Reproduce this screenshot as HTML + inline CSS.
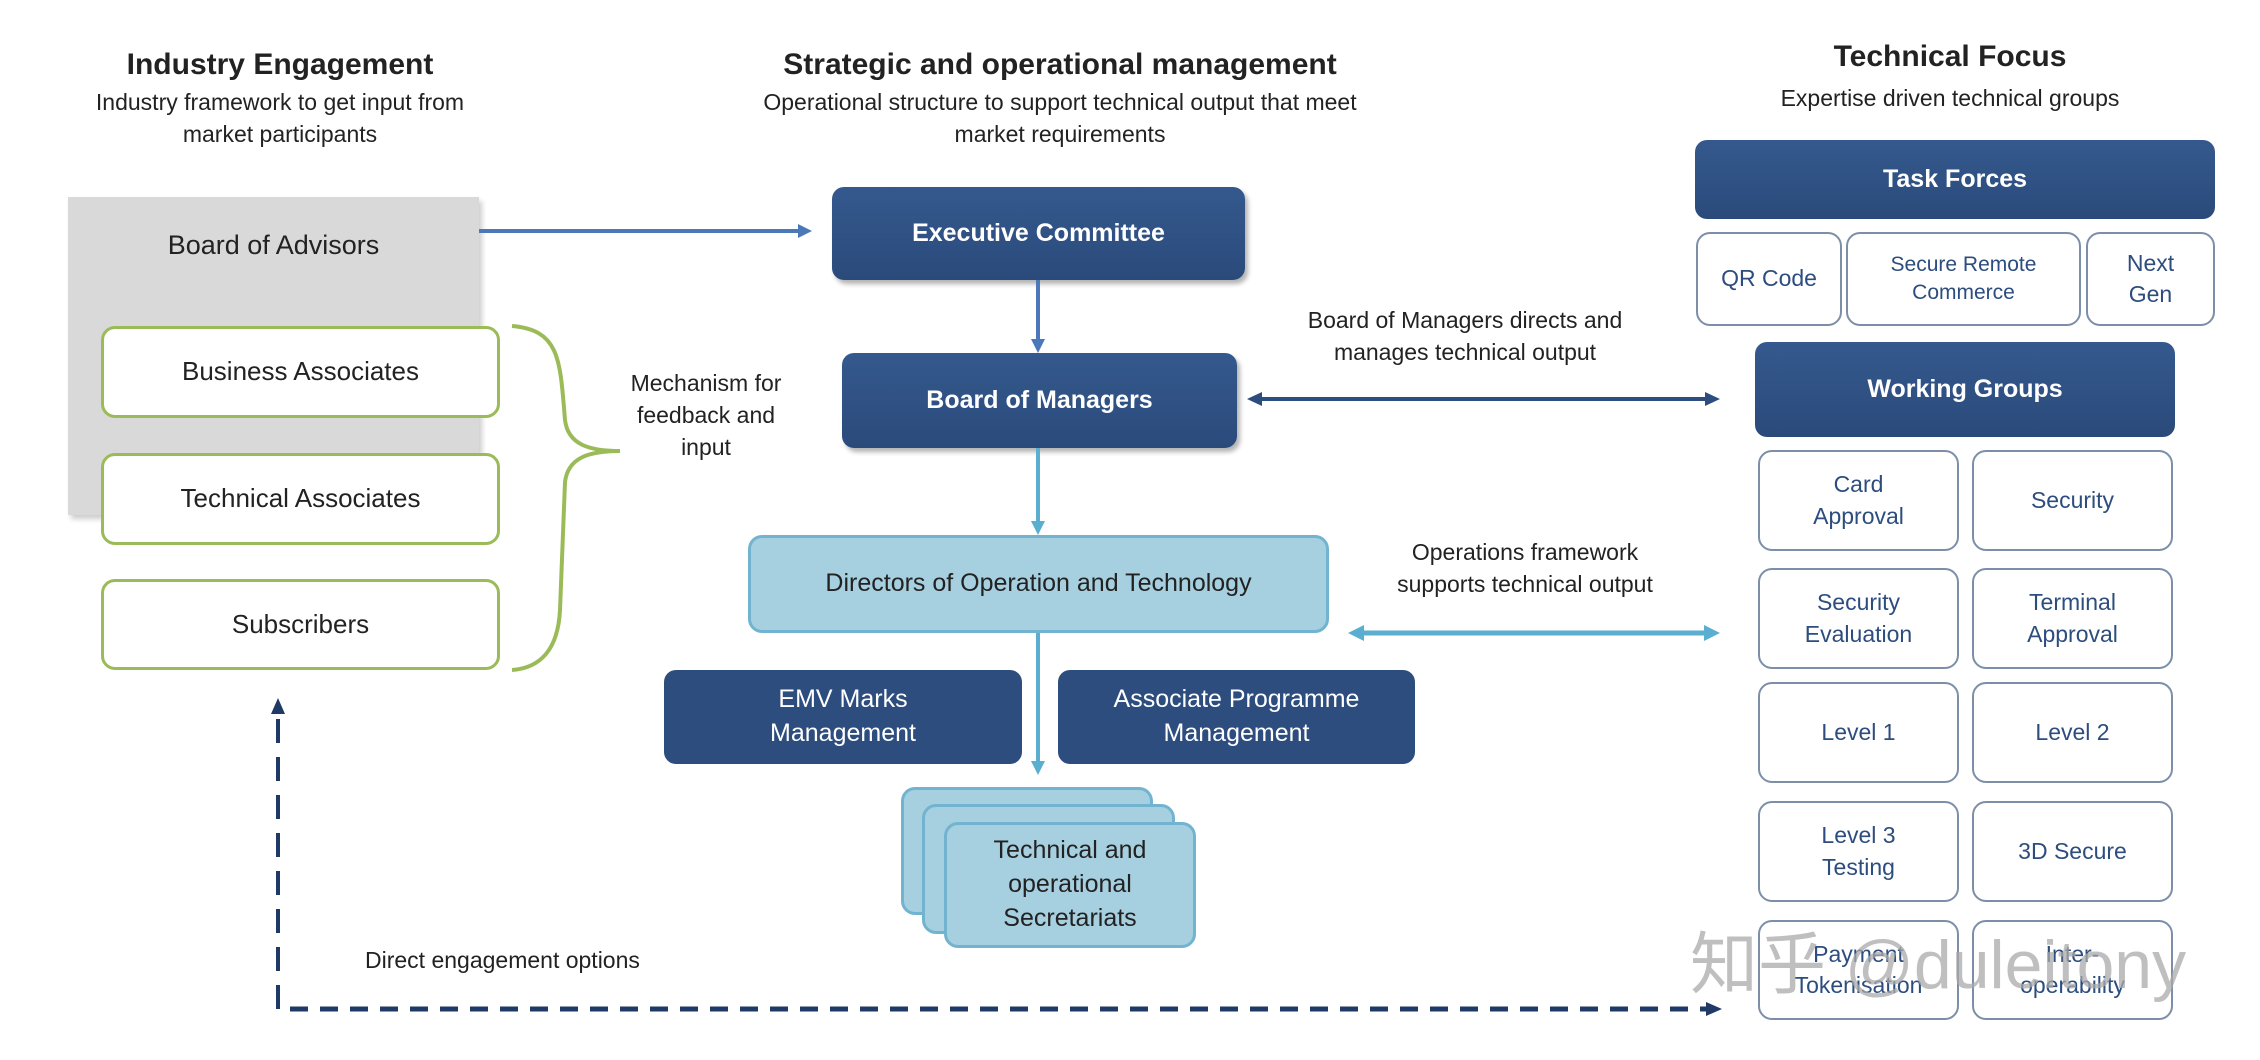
<!DOCTYPE html>
<html><head><meta charset="utf-8"><style>
body{margin:0;width:2260px;height:1060px;background:#fff;position:relative;overflow:hidden;font-family:"Liberation Sans",sans-serif;color:#222}
.a{position:absolute;display:flex;align-items:center;justify-content:center;text-align:center;box-sizing:border-box;line-height:1.35}
.t{position:absolute;text-align:center;line-height:1.4}
.h{font-weight:bold;font-size:30px}
.s{font-size:23px}
.dk{background:#2c4d7e;color:#fff;border-radius:12px;font-size:25px}
.dkb{font-weight:bold;box-shadow:3px 4px 5px rgba(0,0,0,.3);background:linear-gradient(#35598e,#2a4a7a)}
.lb{background:#a6cfdf;border:3px solid #72b4cf;border-radius:14px;font-size:25px;color:#222}
.gr{background:#fff;border:3px solid #9bbb59;border-radius:14px;font-size:26px}
.w{background:#fff;border:2px solid #7d8fa8;border-radius:14px;color:#2c4d7e;font-size:23px}
</style></head><body>
<div class="t h" style="left:60px;width:440px;top:44px">Industry Engagement</div>
<div class="t s" style="left:40px;width:480px;top:86px">Industry framework to get input from<br>market participants</div>
<div class="t h" style="left:700px;width:720px;top:44px">Strategic and operational management</div>
<div class="t s" style="left:680px;width:760px;top:86px">Operational structure to support technical output that meet<br>market requirements</div>
<div class="t h" style="left:1700px;width:500px;top:36px">Technical Focus</div>
<div class="t s" style="left:1700px;width:500px;top:82px">Expertise driven technical groups</div>

<div class="a" style="left:68px;top:197px;width:411px;height:318px;background:#d9d9d9;align-items:flex-start;padding-top:30px;font-size:27px;box-shadow:3px 4px 5px rgba(0,0,0,.2)">Board of Advisors</div>
<div class="a gr" style="left:101px;top:326px;width:399px;height:92px">Business Associates</div>
<div class="a gr" style="left:101px;top:453px;width:399px;height:92px">Technical Associates</div>
<div class="a gr" style="left:101px;top:579px;width:399px;height:91px">Subscribers</div>
<div class="t s" style="left:596px;width:220px;top:367px;font-size:23px">Mechanism for<br>feedback and<br>input</div>

<div class="a dk dkb" style="left:832px;top:187px;width:413px;height:93px">Executive Committee</div>
<div class="a dk dkb" style="left:842px;top:353px;width:395px;height:95px">Board of Managers</div>
<div class="a lb" style="left:748px;top:535px;width:581px;height:98px">Directors of Operation and Technology</div>
<div class="a dk" style="left:664px;top:670px;width:358px;height:94px">EMV Marks<br>Management</div>
<div class="a dk" style="left:1058px;top:670px;width:357px;height:94px">Associate Programme<br>Management</div>
<div class="a lb" style="left:901px;top:787px;width:252px;height:128px"></div>
<div class="a lb" style="left:922px;top:804px;width:253px;height:130px"></div>
<div class="a lb" style="left:944px;top:822px;width:252px;height:126px">Technical and<br>operational<br>Secretariats</div>

<div class="t s" style="left:1240px;width:450px;top:304px">Board of Managers directs and<br>manages technical output</div>
<div class="t s" style="left:1320px;width:410px;top:536px">Operations framework<br>supports technical output</div>
<div class="t s" style="left:365px;top:944px">Direct engagement options</div>

<div class="a dk dkb" style="left:1695px;top:140px;width:520px;height:79px;box-shadow:none">Task Forces</div>
<div class="a w" style="left:1696px;top:232px;width:146px;height:94px">QR Code</div>
<div class="a w" style="left:1846px;top:232px;width:235px;height:94px;font-size:21px">Secure Remote<br>Commerce</div>
<div class="a w" style="left:2086px;top:232px;width:129px;height:94px">Next<br>Gen</div>
<div class="a dk dkb" style="left:1755px;top:342px;width:420px;height:95px;box-shadow:none">Working Groups</div>
<div class="a w" style="left:1758px;top:450px;width:201px;height:101px">Card<br>Approval</div>
<div class="a w" style="left:1972px;top:450px;width:201px;height:101px">Security</div>
<div class="a w" style="left:1758px;top:568px;width:201px;height:101px">Security<br>Evaluation</div>
<div class="a w" style="left:1972px;top:568px;width:201px;height:101px">Terminal<br>Approval</div>
<div class="a w" style="left:1758px;top:682px;width:201px;height:101px">Level 1</div>
<div class="a w" style="left:1972px;top:682px;width:201px;height:101px">Level 2</div>
<div class="a w" style="left:1758px;top:801px;width:201px;height:101px">Level 3<br>Testing</div>
<div class="a w" style="left:1972px;top:801px;width:201px;height:101px">3D Secure</div>
<div class="a w" style="left:1758px;top:920px;width:201px;height:100px">Payment<br>Tokenisation</div>
<div class="a w" style="left:1972px;top:920px;width:201px;height:100px">Inter-<br>operability</div>
<div class="t" style="left:1690px;top:918px;font-size:68px;color:rgba(170,170,170,.75);font-family:'Liberation Sans','Noto Sans CJK SC',sans-serif;white-space:nowrap">知乎 @duleitony</div>

<svg width="2260" height="1060" style="position:absolute;left:0;top:0" viewBox="0 0 2260 1060">
<g fill="none" stroke-width="4">
<line x1="479" y1="231" x2="800" y2="231" stroke="#4a78b8"/>
<line x1="1038" y1="280" x2="1038" y2="342" stroke="#4a78b8"/>
<line x1="1038" y1="448" x2="1038" y2="524" stroke="#5aaed0"/>
<line x1="1038" y1="633" x2="1038" y2="764" stroke="#5aaed0"/>
<line x1="1260" y1="399" x2="1706" y2="399" stroke="#2c4d7e"/>
<line x1="1362" y1="633" x2="1706" y2="633" stroke="#5aaed0" stroke-width="5"/>
<path d="M512 326 C560 330 560 360 565 420 C568 445 590 451 620 451 C590 451 568 457 565 482 L560 610 C558 650 540 668 512 670" stroke="#9bbb59" stroke-width="4"/>
<line x1="278" y1="1009" x2="278" y2="712" stroke="#1f3a66" stroke-dasharray="24 14"/>
<line x1="290" y1="1009" x2="1706" y2="1009" stroke="#1f3a66" stroke-width="5" stroke-dasharray="18 12"/>
</g>
<polygon points="812,231 798,224 798,238" fill="#4a78b8"/>
<polygon points="1038,353 1031,339 1045,339" fill="#4a78b8"/>
<polygon points="1038,535 1031,521 1045,521" fill="#5aaed0"/>
<polygon points="1038,775 1031,761 1045,761" fill="#5aaed0"/>
<polygon points="1247,399 1262,392 1262,406" fill="#2c4d7e"/>
<polygon points="1720,399 1705,392 1705,406" fill="#2c4d7e"/>
<polygon points="1348,633 1364,625 1364,641" fill="#5aaed0"/>
<polygon points="1720,633 1704,625 1704,641" fill="#5aaed0"/>
<polygon points="278,698 271,714 285,714" fill="#1f3a66"/>
<polygon points="1722,1009 1706,1002 1706,1016" fill="#1f3a66"/>
</svg>
</body></html>
